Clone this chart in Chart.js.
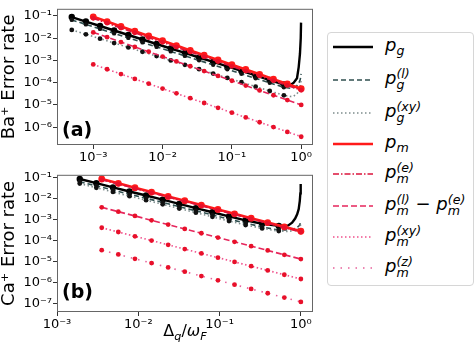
<!DOCTYPE html>
<html>
<head>
<meta charset="utf-8">
<script src="https://cdn.jsdelivr.net/npm/chart.js@4.4.0/dist/chart.umd.min.js"></script>
<style>
  body { margin: 0; background: #fff; }
  #wrap { position: relative; width: 474px; height: 348px; overflow: hidden; font-family: "DejaVu Sans", sans-serif; }
  #chartA { position: absolute; left: 0; top: 0; }
  #chartB { position: absolute; left: 0; top: 166px; }
  #xtitle { position: absolute; left: 125px; width: 120px; top: 322px; text-align: center; font-size: 16px; line-height: 18px; }
  #legend { position: absolute; left: 327px; top: 32px; width: 145px; height: 252px; border: 1px solid #d6d6d6; border-radius: 4px; background: #fff; }
  .row { position: absolute; left: 0; height: 0; }
  .row svg { position: absolute; left: 5px; top: -4px; }
  .lab { position: absolute; left: 57px; top: 0; transform: translateY(-55%); white-space: nowrap; font-size: 18px; line-height: 20px; }
  .lab i, #xtitle i { font-style: italic; }
  .sb { font-size: 0.7em; position: relative; top: 0.35em; font-style: italic; }
  .st { display: inline-flex; flex-direction: column; font-size: 0.7em; line-height: 0.9; vertical-align: 0.5em; font-style: italic; }
</style>
</head>
<body>
<div id="wrap">
  <canvas id="chartA" width="320" height="166"></canvas>
  <canvas id="chartB" width="320" height="182"></canvas>
  <div id="xtitle">Δ<span class="sb">q</span>/<i>ω</i><span class="sb">F</span></div>
  <div id="legend"></div>
</div>
<script>
// tick labels
var xTickVals = [1e-3, 1e-2, 1e-1, 1];
var xTickLabels = ["10⁻³", "10⁻²", "10⁻¹", "10⁰"];
var aYTickVals = [1e-6, 1e-5, 1e-4, 1e-3, 1e-2, 1e-1];
var aYTickLabels = ["10⁻⁶", "10⁻⁵", "10⁻⁴", "10⁻³", "10⁻²", "10⁻¹"];
var bYTickVals = [1e-7, 1e-6, 1e-5, 1e-4, 1e-3, 1e-2, 1e-1];
var bYTickLabels = ["10⁻⁷", "10⁻⁶", "10⁻⁵", "10⁻⁴", "10⁻³", "10⁻²", "10⁻¹"];

// panel (a) Ba+ : gate errors (black family)
var aGX = [4.9e-4, 7.83e-4, 1.253e-3, 2.0e-3, 3.21e-3, 5.13e-3, 8.2e-3, 0.01312, 0.021, 0.0336, 0.0537, 0.0859, 0.1374, 0.22, 0.3516, 0.562];
var aPg = [0.0891, 0.056, 0.0352, 0.0221, 0.01387, 8.71e-3, 5.47e-3, 3.44e-3, 2.16e-3, 1.355e-3, 8.51e-4, 5.35e-4, 3.36e-4, 2.11e-4, 1.32e-4, 8.32e-5];
var aPgL = [0.0661, 0.0415, 0.0261, 0.01637, 0.01028, 6.46e-3, 4.06e-3, 2.55e-3, 1.6e-3, 1.005e-3, 6.31e-4, 3.96e-4, 2.49e-4, 1.56e-4, 9.82e-5, 6.17e-5];
var aPgXY = [0.0234, 0.01493, 9.51e-3, 6.05e-3, 3.85e-3, 2.45e-3, 1.563e-3, 9.95e-4, 6.34e-4, 4.04e-4, 2.57e-4, 1.637e-4, 1.042e-4, 6.64e-5, 4.23e-5, 2.69e-5];
var aTailX = [0.7, 0.78, 0.87, 0.92, 0.96, 0.985, 0.995];
var aPgTail = [7.9e-5, 1.0e-4, 1.58e-4, 5.0e-4, 2.0e-3, 0.01, 0.05];
var aPgLTail = [5.6e-5, 6.0e-5, 7.4e-5, 9.3e-5, 1.26e-4, 1.78e-4, 2.5e-4];
var aPgXYTail = [2.4e-5, 2.5e-5, 3.16e-5, 4.2e-5, 6.0e-5, 8.9e-5, 1.41e-4];

// panel (a) Ba+ : measurement errors (red family)
var aMX = [1e-3, 1.585e-3, 2.512e-3, 3.981e-3, 6.31e-3, 0.01, 0.01585, 0.02512, 0.03981, 0.0631, 0.1, 0.1585, 0.2512, 0.3981, 0.631, 1.0];
var aPm = [0.0912, 0.0556, 0.0338, 0.0206, 0.01253, 7.64e-3, 4.66e-3, 2.83e-3, 1.726e-3, 1.05e-3, 6.4e-4, 3.9e-4, 2.37e-4, 1.445e-4, 8.8e-5, 5.36e-5];
var aPmE = [0.0776, 0.0473, 0.0287, 0.0175, 0.01065, 6.5e-3, 3.96e-3, 2.41e-3, 1.467e-3, 8.93e-4, 5.44e-4, 3.32e-4, 2.01e-4, 1.23e-4, 7.5e-5, 4.56e-5];
var aPmLE = [0.0182, 0.01104, 6.69e-3, 4.06e-3, 2.46e-3, 1.49e-3, 9.03e-4, 5.47e-4, 3.32e-4, 2.01e-4, 1.22e-4, 7.39e-5, 4.48e-5, 2.72e-5, 1.645e-5, 1.0e-5];
var aPmXY = [6.61e-4, 4.01e-4, 2.44e-4, 1.479e-4, 8.97e-5, 5.45e-5, 3.31e-5, 2.01e-5, 1.222e-5, 7.41e-6, 4.5e-6, 2.73e-6, 1.66e-6, 1.007e-6, 6.12e-7, 3.72e-7];

// panel (b) Ca+ : gate errors
var bGX = [1.905e-3, 3.05e-3, 4.88e-3, 7.8e-3, 0.01247, 0.01995, 0.0319, 0.0511, 0.0817, 0.1306, 0.209, 0.334, 0.535];
var bPg = [0.0871, 0.055, 0.0347, 0.0219, 0.01413, 8.91e-3, 5.62e-3, 3.55e-3, 2.24e-3, 1.413e-3, 9.12e-4, 6.31e-4, 5.01e-4];
var bPgL = [0.0646, 0.0407, 0.0257, 0.0162, 0.01047, 6.61e-3, 4.17e-3, 2.63e-3, 1.66e-3, 1.047e-3, 6.76e-4, 4.47e-4, 3.16e-4];
var bPgXY = [0.0525, 0.0331, 0.0209, 0.01318, 8.51e-3, 5.37e-3, 3.39e-3, 2.14e-3, 1.35e-3, 8.51e-4, 5.5e-4, 3.8e-4, 2.82e-4];
var bTailX = [0.62, 0.7, 0.78, 0.85, 0.9, 0.94, 0.97, 0.985, 0.995];
var bPgTail = [5.0e-4, 5.25e-4, 7.1e-4, 1.12e-3, 1.78e-3, 3.16e-3, 7.9e-3, 0.0178, 0.05];
var bPgLTail = [3.16e-4, 3.24e-4, 3.47e-4, 3.8e-4, 4.27e-4, 4.79e-4, 5.62e-4, 6.6e-4, 7.9e-4];
var bPgXYTail = [2.75e-4, 2.75e-4, 2.88e-4, 3.16e-4, 3.47e-4, 3.8e-4, 4.37e-4, 5.0e-4, 6.0e-4];

// panel (b) Ca+ : measurement errors
var bMX = [3.55e-3, 5.68e-3, 9.1e-3, 0.01456, 0.0233, 0.0373, 0.0597, 0.0955, 0.1528, 0.2445, 0.391, 0.626, 1.0];
var bPm = [0.0871, 0.054, 0.0334, 0.0207, 0.01282, 7.94e-3, 4.92e-3, 3.05e-3, 1.888e-3, 1.169e-3, 7.24e-4, 4.49e-4, 2.78e-4];
var bPmE = [0.0801, 0.0497, 0.0307, 0.019, 0.0118, 7.3e-3, 4.53e-3, 2.8e-3, 1.737e-3, 1.075e-3, 6.66e-4, 4.13e-4, 2.56e-4];
var bPmLE = [3.85e-3, 2.39e-3, 1.49e-3, 9.27e-4, 5.77e-4, 3.59e-4, 2.23e-4, 1.39e-4, 8.65e-5, 5.38e-5, 3.35e-5, 2.08e-5, 1.3e-5];
var bPmXY = [4.07e-4, 2.55e-4, 1.59e-4, 9.95e-5, 6.22e-5, 3.89e-5, 2.43e-5, 1.52e-5, 9.5e-6, 5.94e-6, 3.72e-6, 2.32e-6, 1.45e-6];
var bPmZ = [3.47e-5, 2.16e-5, 1.34e-5, 8.36e-6, 5.2e-6, 3.24e-6, 2.01e-6, 1.25e-6, 7.8e-7, 4.85e-7, 3.02e-7, 1.88e-7, 1.17e-7];

var styles = {
  pg:   { color: "#000000", width: 2.4, dash: [], mColor: "#000000", mR: 3.2 },
  pgL:  { color: "#2f4f4f", width: 1.6, dash: [5, 3], mColor: "#111111", mR: 2.2 },
  pgXY: { color: "#7d8c8c", width: 1.6, dash: [1.5, 2.5], mColor: "#111111", mR: 2.4 },
  pm:   { color: "#ff1a1a", width: 2.6, dash: [], mColor: "#ff1a1a", mR: 3.4 },
  pmE:  { color: "#dc143c", width: 1.6, dash: [6, 2, 1.5, 2], mColor: "#e8102a", mR: 2.4 },
  pmLE: { color: "#e6265c", width: 1.6, dash: [6, 3], mColor: "#e8102a", mR: 2.4 },
  pmXY: { color: "#f0508c", width: 1.6, dash: [1.5, 2.5], mColor: "#e8102a", mR: 2.4 },
  pmZ:  { color: "#e8609a", width: 1.6, dash: [1.5, 6], mColor: "#e8102a", mR: 2.4 }
};

var legendRows = [
  { key: "pg",   y: 14,  html: '<i>p</i><span class="sb">g</span>' },
  { key: "pgL",  y: 47,  html: '<i>p</i><span class="st"><span>(l)</span><span>g</span></span>' },
  { key: "pgXY", y: 80,  html: '<i>p</i><span class="st"><span>(xy)</span><span>g</span></span>' },
  { key: "pm",   y: 111, html: '<i>p</i><span class="sb">m</span>' },
  { key: "pmE",  y: 141, html: '<i>p</i><span class="st"><span>(e)</span><span>m</span></span>' },
  { key: "pmLE", y: 173, html: '<i>p</i><span class="st"><span>(l)</span><span>m</span></span> − <i>p</i><span class="st"><span>(e)</span><span>m</span></span>' },
  { key: "pmXY", y: 204, html: '<i>p</i><span class="st"><span>(xy)</span><span>m</span></span>' },
  { key: "pmZ",  y: 235, html: '<i>p</i><span class="st"><span>(z)</span><span>m</span></span>' }
];

function series(key, xs, ys, tailX, tailY, order) {
  var s = styles[key];
  var pts = xs.map(function (x, i) { return { x: x, y: ys[i] }; });
  var radii = xs.map(function () { return s.mR; });
  if (tailX) {
    tailX.forEach(function (x, i) { pts.push({ x: x, y: tailY[i] }); radii.push(0); });
  }
  return {
    data: pts,
    borderColor: s.color,
    borderWidth: s.width,
    borderDash: s.dash,
    pointRadius: radii,
    pointBackgroundColor: s.mColor,
    pointBorderWidth: 0,
    tension: 0,
    fill: false,
    order: order
  };
}

function labelFor(vals, labels) {
  return function (value) {
    for (var i = 0; i < vals.length; i++) {
      if (Math.abs(Math.log10(vals[i]) - Math.log10(value)) < 1e-6) return labels[i];
    }
    return "";
  };
}

var panelFrame = {
  id: "panelFrame",
  afterDraw: function (chart, args, opts) {
    var ctx = chart.ctx, a = chart.chartArea;
    ctx.save();
    ctx.strokeStyle = "#666";
    ctx.lineWidth = 1;
    ctx.strokeRect(a.left + 0.5, a.top + 0.5, a.right - a.left - 1, a.bottom - a.top - 1);
    ctx.fillStyle = "#000";
    ctx.font = 'bold 19px "DejaVu Sans"';
    ctx.textBaseline = "alphabetic";
    ctx.fillText(opts.text, a.left + 5, a.bottom - opts.dy);
    ctx.restore();
  }
};

function makePanel(id, o) {
  return new Chart(document.getElementById(id), {
    type: "line",
    data: { datasets: o.datasets },
    plugins: [panelFrame],
    options: {
      responsive: false,
      animation: false,
      devicePixelRatio: 1,
      layout: { padding: { top: o.padTop, right: 7, left: 0, bottom: 0 } },
      plugins: {
        legend: { display: false },
        tooltip: { enabled: false },
        panelFrame: { text: o.label, dy: o.labelDy }
      },
      scales: {
        x: {
          type: "logarithmic",
          min: o.xMin,
          max: o.xMax,
          afterBuildTicks: function (scale) { scale.ticks = xTickVals.map(function (v) { return { value: v }; }); },
          afterFit: function (scale) { scale.height = o.xAxisH; },
          grid: { drawOnChartArea: false, drawTicks: true, tickLength: 4, color: "#333" },
          border: { display: false },
          ticks: { autoSkip: false, maxRotation: 0, padding: 1, color: "#000", font: { family: "DejaVu Sans", size: 13 }, callback: labelFor(xTickVals, xTickLabels) }
        },
        y: {
          type: "logarithmic",
          min: o.yMin,
          max: o.yMax,
          afterBuildTicks: function (scale) { scale.ticks = o.yTickVals.map(function (v) { return { value: v }; }); },
          afterFit: function (scale) { scale.width = 57; },
          grid: { drawOnChartArea: false, drawTicks: true, tickLength: 4, color: "#333" },
          border: { display: false },
          title: { display: true, text: o.yTitle, color: "#000", padding: 0, font: { family: "DejaVu Sans", size: 18, lineHeight: 1 } },
          ticks: { autoSkip: false, padding: 1, color: "#000", font: { family: "DejaVu Sans", size: 13 }, callback: labelFor(o.yTickVals, o.yTickLabels) }
        }
      }
    }
  });
}

makePanel("chartA", {
  label: "(a)", labelDy: 9, padTop: 6, xAxisH: 21,
  xMin: 3.4e-4, xMax: 1.48, yMin: 1.58e-7, yMax: 0.209,
  yTickVals: aYTickVals, yTickLabels: aYTickLabels, yTitle: "Ba⁺ Error rate",
  datasets: [
    series("pg", aGX, aPg, aTailX, aPgTail, 8),
    series("pgL", aGX, aPgL, aTailX, aPgLTail, 7),
    series("pgXY", aGX, aPgXY, aTailX, aPgXYTail, 6),
    series("pm", aMX, aPm, null, null, 5),
    series("pmE", aMX, aPmE, null, null, 4),
    series("pmLE", aMX, aPmLE, null, null, 3),
    series("pmXY", aMX, aPmXY, null, null, 2)
  ]
});

makePanel("chartB", {
  label: "(b)", labelDy: 14, padTop: 7, xAxisH: 36,
  xMin: 1e-3, xMax: 1.41, yMin: 3.85e-8, yMax: 0.138,
  yTickVals: bYTickVals, yTickLabels: bYTickLabels, yTitle: "Ca⁺ Error rate",
  datasets: [
    series("pg", bGX, bPg, bTailX, bPgTail, 8),
    series("pgL", bGX, bPgL, bTailX, bPgLTail, 7),
    series("pgXY", bGX, bPgXY, bTailX, bPgXYTail, 6),
    series("pm", bMX, bPm, null, null, 5),
    series("pmE", bMX, bPmE, null, null, 4),
    series("pmLE", bMX, bPmLE, null, null, 3),
    series("pmXY", bMX, bPmXY, null, null, 2),
    series("pmZ", bMX, bPmZ, null, null, 1)
  ]
});

// legend (html so sub/superscripts stay real text)
var legendBox = document.getElementById("legend");
legendRows.forEach(function (r) {
  var s = styles[r.key];
  var row = document.createElement("div");
  row.className = "row";
  row.style.top = r.y + "px";
  row.innerHTML =
    '<svg width="40" height="8"><line x1="0" y1="4" x2="40" y2="4" stroke="' + s.color +
    '" stroke-width="' + s.width + '" stroke-dasharray="' + (s.dash.length ? s.dash.join(",") : "none") + '"/></svg>' +
    '<span class="lab">' + r.html + "</span>";
  legendBox.appendChild(row);
});
</script>
</body>
</html>
